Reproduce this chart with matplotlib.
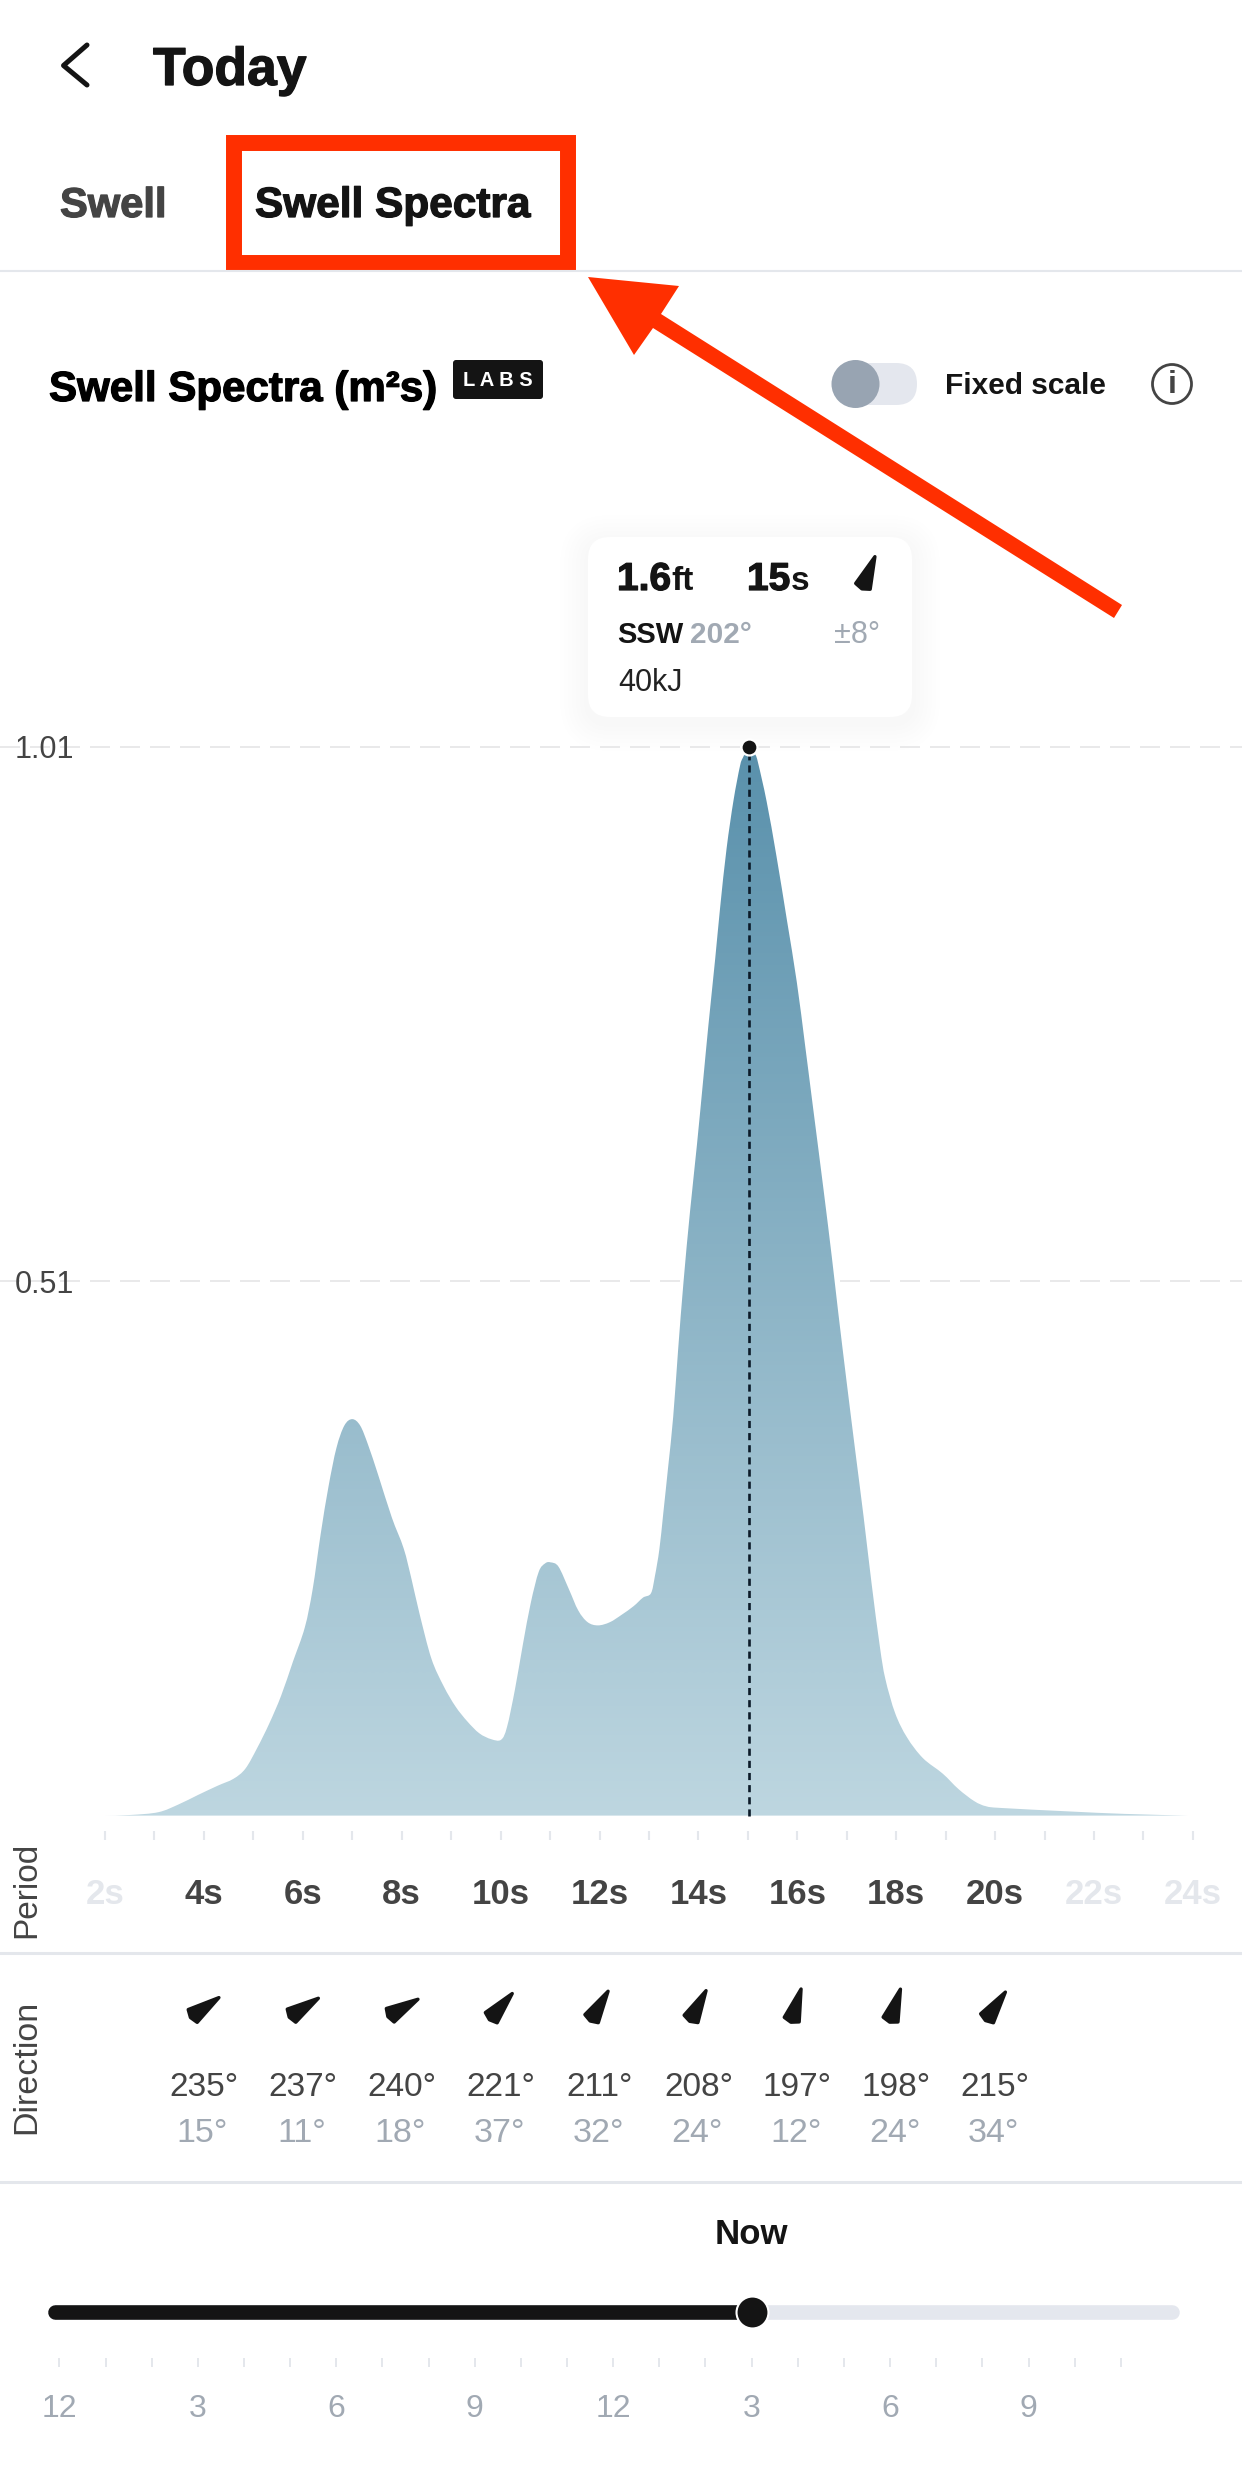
# Swell spectra app screen
import matplotlib
matplotlib.use("Agg")
import numpy as np
import matplotlib.pyplot as plt
import matplotlib.patheffects as pe
from matplotlib.colors import LinearSegmentedColormap
from matplotlib.markers import MarkerStyle
from matplotlib.patches import Circle, FancyBboxPatch, PathPatch, Polygon, Rectangle
from matplotlib.path import Path
from matplotlib.transforms import Affine2D

plt.rcParams['font.family'] = ['Liberation Sans', 'DejaVu Sans']

# Spectrum
period = [2.0, 2.52, 3.08, 3.48, 3.88, 4.28, 4.60, 4.84, 5.08, 5.32, 5.56, 5.80, 6.04, 6.20, 6.36,
          6.52, 6.68, 6.84, 7.0, 7.16, 7.32, 7.53, 7.80, 8.04, 8.2, 8.36, 8.6, 8.85, 9.09, 9.33,
          9.57, 9.81, 10.01, 10.13, 10.29, 10.45, 10.61, 10.77, 10.9, 11.01, 11.17, 11.38, 11.57,
          11.76, 11.97, 12.21, 12.45, 12.69, 12.88, 13.04, 13.12, 13.21, 13.29, 13.39, 13.49,
          13.59, 13.70, 13.83, 13.97, 14.10, 14.20, 14.34, 14.44, 14.57, 14.71, 14.84, 14.90,
          15.03, 15.15, 15.21, 15.38, 15.58, 15.79, 15.99, 16.16, 16.32, 16.53, 16.70, 16.83,
          17.0, 17.17, 17.34, 17.5, 17.67, 17.78, 17.98, 18.22, 18.54, 18.94, 19.26, 19.58,
          19.82, 20.14, 21.5, 22.62, 23.9]
energy = [0.01, 0.0106, 0.0132, 0.0203, 0.0293, 0.038, 0.0445, 0.054, 0.0735, 0.096, 0.122, 0.154,
          0.186, 0.222, 0.273, 0.318, 0.354, 0.375, 0.381, 0.375, 0.357, 0.328, 0.289, 0.26, 0.231,
          0.199, 0.157, 0.131, 0.112, 0.098, 0.087, 0.0815, 0.081, 0.093, 0.128, 0.17, 0.209,
          0.238, 0.246, 0.247, 0.243, 0.222, 0.202, 0.191, 0.188, 0.191, 0.198, 0.206, 0.214,
          0.218, 0.234, 0.259, 0.293, 0.337, 0.383, 0.446, 0.51, 0.575, 0.6375, 0.70, 0.7485,
          0.812, 0.86, 0.915, 0.96, 0.992, 1.0, 1.01, 1.003, 0.9945, 0.959, 0.9075, 0.848,
          0.79, 0.73, 0.672, 0.596, 0.532, 0.48, 0.415, 0.352, 0.29, 0.228, 0.168, 0.138,
          0.1057, 0.0831, 0.0638, 0.0493, 0.0348, 0.0235, 0.0187, 0.0171, 0.0139, 0.0116, 0.01]
peak_period = 15.03
peak_value = 1.01
y_ticks = [1.01, 0.51]

period_ticks = list(range(2, 25))
faded_periods = [2, 22, 24]

dir_periods = [4, 6, 8, 10, 12, 14, 16, 18, 20]
directions = [235, 237, 240, 221, 211, 208, 197, 198, 215]
spreads = [15, 11, 18, 37, 32, 24, 12, 24, 34]

hours = list(range(24))
hour_labels = ['12', '3', '6', '9', '12', '3', '6', '9']
now_hour = 15

W, H = 1242, 2473
DARK = '#444444'
GREY = '#a1a9b3'
LINE = '#e4e7ec'
RED = '#ff2f00'
INK = '#141414'

# pixel <-> data scales of the period axis and the energy axis
PX_PER_S = 49.45
PX_PER_UNIT = 1068.6
BASE_PX = 1815.6


def px_to_period(x):
    return 2 + (x - 105) / PX_PER_S


def px_to_value(y):
    return 0.01 + (BASE_PX - y) / PX_PER_UNIT


def px_axes(fig, left, top, right, bottom, z):
    ax = fig.add_axes([left / W, 1 - bottom / H, (right - left) / W, (bottom - top) / H])
    ax.set_zorder(z)
    ax.patch.set_visible(False)
    for s in ax.spines.values():
        s.set_visible(False)
    return ax


def swell_marker(heading):
    # kite shaped arrow, heading in degrees clockwise from north
    path = Path([(0.0, 0.66), (-0.23, -0.28), (0.0, -0.36), (0.23, -0.28), (0.0, 0.66)], closed=True)
    return MarkerStyle(path, transform=Affine2D().rotate_deg(-heading), joinstyle='round')


def smooth_outline(xs, ys, base):
    # closed bezier outline through the read points
    pts = np.column_stack([xs, ys])
    verts = [(xs[0], base), tuple(pts[0])]
    codes = [Path.MOVETO, Path.LINETO]
    for i in range(len(pts) - 1):
        p0 = pts[max(i - 1, 0)]
        p1 = pts[i]
        p2 = pts[i + 1]
        p3 = pts[min(i + 2, len(pts) - 1)]
        verts += [tuple(p1 + (p2 - p0) / 6), tuple(p2 - (p3 - p1) / 6), tuple(p2)]
        codes += [Path.CURVE4] * 3
    verts += [(xs[-1], base), (xs[0], base)]
    codes += [Path.LINETO, Path.CLOSEPOLY]
    return Path(verts, codes)


def heavy(color, w=0.9):
    return [pe.withStroke(linewidth=w, foreground=color)]


fig = plt.figure(figsize=(W / 100, H / 100), dpi=100, facecolor='white')

# ---- page chrome, in pixels
ui = px_axes(fig, 0, 0, W, H, 1)
ui.set_xlim(0, W)
ui.set_ylim(H, 0)
ui.axis('off')

ui.plot([87, 63.5, 87], [45, 65.5, 85], color=INK, lw=3.6, solid_capstyle='round', solid_joinstyle='round')
ui.text(153, 85, 'Today', fontsize=38.5, fontweight='bold', color=INK, va='baseline', path_effects=heavy(INK))
ui.text(60, 217, 'Swell', fontsize=30, fontweight='bold', color=DARK, va='baseline', path_effects=heavy(DARK))
ui.text(255, 217, 'Swell Spectra', fontsize=30.5, fontweight='bold', color=INK, va='baseline', path_effects=heavy(INK))
ui.plot([0, W], [271, 271], color=LINE, lw=1.5)
ui.add_patch(Rectangle((234, 142.5), 333.5, 120.5, fill=False, ec=RED, lw=11.5, joinstyle='miter'))
ui.add_patch(Polygon([(588, 277), (679, 286), (661, 314), (1122, 605), (1114, 618), (653, 328), (634, 355)],
                     closed=True, fc=RED, ec='none'))

ui.text(49, 401, 'Swell Spectra (m²s)', fontsize=30.3, fontweight='bold', color='black', va='baseline',
        path_effects=heavy('black'))
ui.add_patch(FancyBboxPatch((453, 360), 90, 39, boxstyle='round,pad=0,rounding_size=3', fc=INK, ec='none'))
ui.text(498, 380, 'L A B S', fontsize=14.5, fontweight='bold', color='white', ha='center', va='center')

ui.add_patch(FancyBboxPatch((835, 363), 82, 42, boxstyle='round,pad=0,rounding_size=21', fc='#e4e7ee', ec='none'))
ui.add_patch(Circle((855.5, 384), 24, fc='#98a4b2', ec='none'))
ui.text(945, 394, 'Fixed scale', fontsize=21.5, fontweight='bold', color=INK, va='baseline')
ui.add_patch(Circle((1172, 384), 19.5, fill=False, ec=DARK, lw=2))
ui.text(1172, 385, 'i', fontsize=23, fontweight='bold', color=DARK, ha='center', va='center')

# popup card with a soft shadow
for grow in range(28, 0, -4):
    ui.add_patch(FancyBboxPatch((588 - grow, 537 - grow + 6), 324 + 2 * grow, 180 + 2 * grow,
                                boxstyle='round,pad=0,rounding_size=%d' % (22 + grow),
                                fc='black', alpha=0.0045, ec='none'))
ui.add_patch(FancyBboxPatch((588, 537), 324, 180, boxstyle='round,pad=0,rounding_size=22', fc='white', ec='none'))
ui.text(617, 590, '1.6', fontsize=28, fontweight='bold', color=INK, va='baseline', path_effects=heavy(INK))
ui.text(671, 590, 'ft', fontsize=24, fontweight='bold', color=INK, va='baseline')
ui.text(747, 590, '15', fontsize=28, fontweight='bold', color=INK, va='baseline', path_effects=heavy(INK))
ui.text(791, 590, 's', fontsize=24, fontweight='bold', color=INK, va='baseline')
ui.scatter([866], [577], marker=swell_marker(22), s=1050, color=INK, linewidths=2.4, zorder=3)
ui.text(617, 643, 'SSW', fontsize=21, fontweight='bold', color=INK, va='baseline')
ui.text(690, 643, '202°', fontsize=21.5, fontweight='bold', color=GREY, va='baseline')
ui.text(880, 643, '±8°', fontsize=22, color=GREY, ha='right', va='baseline')
ui.text(618, 691, '40kJ', fontsize=22, color='#222222', va='baseline')

ui.text(27, 1890, 'Period', fontsize=24, color=DARK, rotation=90, ha='center', va='center')
ui.text(27, 2067, 'Direction', fontsize=24.5, color=DARK, rotation=90, ha='center', va='center')
ui.plot([0, W], [1952.5, 1952.5], color=LINE, lw=2.2)
ui.plot([0, W], [2182, 2182], color=LINE, lw=2.2)

# ---- spectrum
ax = px_axes(fig, 0, 700, W, 1831, 2)
xlim = (px_to_period(0), px_to_period(W))
ylim = (px_to_value(1831), px_to_value(700))

grad = LinearSegmentedColormap.from_list('swell', ['#bdd6e0', '#5a91ac'])
gradient = np.linspace(0, 1, 256).reshape(-1, 1)
im = ax.imshow(gradient, cmap=grad, origin='lower', aspect='auto', interpolation='bilinear',
               extent=(period[0], period[-1], 0.01, peak_value), zorder=2)
outline = PathPatch(smooth_outline(period, energy, 0.01), transform=ax.transData, fc='none', ec='none')
ax.add_patch(outline)
im.set_clip_path(outline)

ax.vlines([peak_period], 0.01, peak_value, colors='#0b1a28', lw=1.9, linestyles=(0, (2.7, 1.9)), zorder=3)
ax.plot([peak_period], [peak_value], 'o', ms=11.5, mfc=INK, mec='white', mew=1.6, zorder=4)

ax.set_xlim(xlim)
ax.set_ylim(ylim)
ax.set_yticks(y_ticks)
ax.set_yticklabels(['%.2f' % v for v in y_ticks], fontsize=22, color=DARK, ha='left')
ax.tick_params(axis='y', length=0, pad=-10.5)
ax.grid(axis='y', color='#e9e9ea', lw=1.44, linestyle=(0, (10, 5)))
ax.set_axisbelow(True)

ax.set_xticks(period_ticks)
ax.set_xticklabels(['%ds' % p if p % 2 == 0 else '' for p in period_ticks], fontsize=25, fontweight='bold')
ax.tick_params(axis='x', length=6.5, width=1.5, color=LINE, pad=27)
for p, lab in zip(period_ticks, ax.get_xticklabels()):
    lab.set_color(LINE if p in faded_periods else DARK)

# ---- direction row, same period scale, y in pixels
dr = px_axes(fig, 0, 1960, W, 2175, 2)
dr.set_xlim(xlim)
dr.set_ylim(2175, 1960)
dr.axis('off')
for p, d, s in zip(dir_periods, directions, spreads):
    dr.scatter([p - 0.07], [2010], marker=swell_marker(d - 180), s=1050, color=INK, linewidths=2.4)
    dr.text(p, 2088, '%d°' % d, fontsize=24, color=DARK, ha='center', va='center')
    dr.text(p - 0.03, 2134, '%d°' % s, fontsize=24.5, color=GREY, ha='center', va='center')

# ---- time slider
sl = px_axes(fig, 0, 2280, W, 2358, 2)
sl.set_xlim((0 - 59.4) / 46.15, (W - 59.4) / 46.15)
sl.set_ylim(2358, 2280)
sl.set_yticks([])
track_y = 2311.6
sl.plot([hours[0] - 0.1, hours[-1] + 1.1], [track_y, track_y], color='#e4e7ee', lw=10.5, solid_capstyle='round')
sl.plot([hours[0] - 0.1, now_hour], [track_y, track_y], color=INK, lw=10.5, solid_capstyle='round')
sl.plot([now_hour], [track_y], 'o', ms=23, mfc=INK, mec='white', mew=1.5, zorder=5)
sl.text(now_hour, 2235, 'Now', fontsize=25, fontweight='bold', color=INK, ha='center', va='center', clip_on=False)
sl.set_xticks(hours)
sl.set_xticklabels([hour_labels[h // 3] if h % 3 == 0 else '' for h in hours], fontsize=23, color=GREY)
sl.tick_params(axis='x', length=6.5, width=1.4, color=LINE, pad=19.5)

fig.savefig('out.png', dpi=100, facecolor='white')
